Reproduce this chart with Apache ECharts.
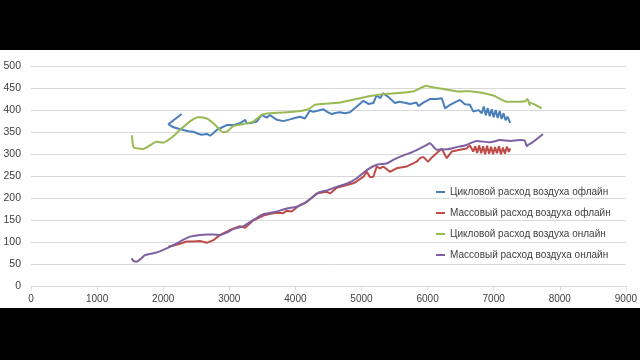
<!DOCTYPE html>
<html><head><meta charset="utf-8">
<script src="https://cdn.jsdelivr.net/npm/echarts@6/dist/echarts.min.js"></script>
<style>html,body{margin:0;padding:0;background:#000;}#c{width:640px;height:360px;}</style>
</head><body><div id="c"></div>
<script>
var seriesNames = ['Цикловой расход воздуха офлайн','Массовый расход воздуха офлайн','Цикловой расход воздуха онлайн','Массовый расход воздуха онлайн'];
var xTicks = [0,1000,2000,3000,4000,5000,6000,7000,8000,9000];
var yTicks = [0,50,100,150,200,250,300,350,400,450,500];

var cycOffline = [[2280,391],[2077,368],[2155,361],[2305,355],[2380,352],[2455,351],[2520,347],[2580,344],[2660,346],[2710,342],[2760,348],[2810,355],[2880,360],[2960,366],[3060,366],[3160,370],[3240,378],[3265,370],[3340,371],[3415,374],[3490,389],[3565,383],[3615,389],[3670,383],[3720,378],[3815,375],[3920,379],[3990,382],[4070,385],[4145,381],[4220,399],[4270,396],[4350,399],[4425,402],[4480,396],[4550,391],[4620,394],[4675,395],[4750,393],[4825,395],[4930,408],[5030,421],[5105,414],[5180,416],[5230,434],[5280,427],[5330,438],[5405,430],[5505,416],[5570,419],[5635,417],[5735,414],[5835,417],[5860,409],[5935,417],[6035,425],[6140,425],[6215,427],[6265,404],[6340,412],[6420,418],[6490,423],[6565,413],[6640,412],[6690,397],[6770,400],[6820,393],[6850,408],[6880,388],[6910,405],[6940,386],[6970,402],[7000,384],[7030,400],[7060,382],[7090,398],[7120,380],[7150,393],[7180,377],[7210,385],[7250,371]];
var massOffline = [[2077,90],[2155,93],[2255,97],[2355,102],[2455,102],[2555,103],[2660,99],[2760,105],[2860,117],[3010,128],[3160,137],[3240,133],[3365,150],[3515,161],[3620,165],[3720,167],[3815,166],[3870,172],[3945,170],[4020,179],[4070,185],[4145,189],[4270,204],[4320,211],[4470,215],[4525,211],[4625,224],[4775,230],[4875,234],[4925,238],[5030,249],[5080,260],[5130,248],[5180,249],[5230,272],[5280,268],[5330,272],[5430,260],[5530,268],[5680,272],[5835,283],[5885,291],[5935,294],[6010,283],[6060,292],[6165,306],[6215,313],[6250,302],[6290,291],[6365,306],[6490,310],[6590,313],[6640,320],[6690,306],[6720,318],[6750,303],[6780,320],[6810,302],[6840,318],[6870,300],[6900,319],[6930,301],[6960,317],[6990,300],[7020,316],[7050,302],[7080,318],[7110,300],[7140,315],[7170,301],[7200,317],[7230,305],[7250,313]];
var cycOnline = [[1528,343],[1550,316],[1620,313],[1700,312],[1800,320],[1900,328],[2000,326],[2130,338],[2255,355],[2400,374],[2530,384],[2660,381],[2760,370],[2860,355],[2910,350],[2980,353],[3060,364],[3200,368],[3360,374],[3515,391],[3720,394],[3970,396],[4195,402],[4300,412],[4500,415],[4700,418],[4980,427],[5130,432],[5400,437],[5780,442],[5985,455],[6035,453],[6190,449],[6490,442],[6640,443],[6995,433],[7195,419],[7395,419],[7480,420],[7510,425],[7550,410],[7530,418],[7600,414],[7725,404]];
var massOnline = [[1523,64],[1548,58],[1598,56],[1660,63],[1725,71],[1800,74],[1900,77],[2000,83],[2130,92],[2255,102],[2405,113],[2555,117],[2660,118],[2760,118],[2860,117],[2960,122],[3060,130],[3215,137],[3365,151],[3515,164],[3620,167],[3720,170],[3870,177],[4020,181],[4170,192],[4350,213],[4480,218],[4625,226],[4775,233],[4925,245],[5080,264],[5230,276],[5380,279],[5480,287],[5580,294],[5785,306],[5985,321],[6035,325],[6140,310],[6290,311],[6440,316],[6590,321],[6740,330],[6945,327],[7095,332],[7250,330],[7395,332],[7470,331],[7500,318],[7530,322],[7570,325],[7700,340],[7745,346]];

var colors = ['#4A7EBB','#BE4B48','#98B954','#7D60A0'];
var datas = [cycOffline, massOffline, cycOnline, massOnline];
var smooths = [false, false, 0.2, 0.2];

var chart = echarts.init(document.getElementById('c'));
chart.setOption({
  backgroundColor: '#000',
  animation: false,
  color: colors,
  graphic: [{type:'rect', z:-100, shape:{x:0,y:50,width:640,height:258}, style:{fill:'#fff'}}],
  grid: {left:31, right:14, top:66, bottom:73.5, containLabel:false},
  legend: {
    orient:'vertical', left:431, top:180, itemWidth:9, itemHeight:2, itemGap:7, icon:'rect',
    textStyle:{fontFamily:'Liberation Sans', fontSize:10, color:'#404040', lineHeight:14},
    data: seriesNames
  },
  xAxis: {
    type:'value', min:xTicks[0], max:xTicks[xTicks.length-1], interval:1000,
    axisLine:{show:true, lineStyle:{color:'#d9d9d9'}},
    axisTick:{show:true, length:4, lineStyle:{color:'#d9d9d9'}},
    splitLine:{show:false},
    axisLabel:{color:'#404040', fontFamily:'Liberation Sans', fontSize:10, margin:8, formatter:function(v){return String(v);}}
  },
  yAxis: {
    type:'value', min:yTicks[0], max:yTicks[yTicks.length-1], interval:50,
    axisLine:{show:false}, axisTick:{show:false},
    splitLine:{show:true, lineStyle:{color:'#d9d9d9'}},
    axisLabel:{color:'#404040', fontFamily:'Liberation Sans', fontSize:10.5, margin:10, formatter:function(v){return String(v);}}
  },
  series: seriesNames.map(function(n,i){
    return {name:n, type:'line', data:datas[i], showSymbol:false, symbol:'none', smooth:smooths[i],
      lineStyle:{width:2, color:colors[i]}, itemStyle:{color:colors[i]}};
  })
});
</script></body></html>
